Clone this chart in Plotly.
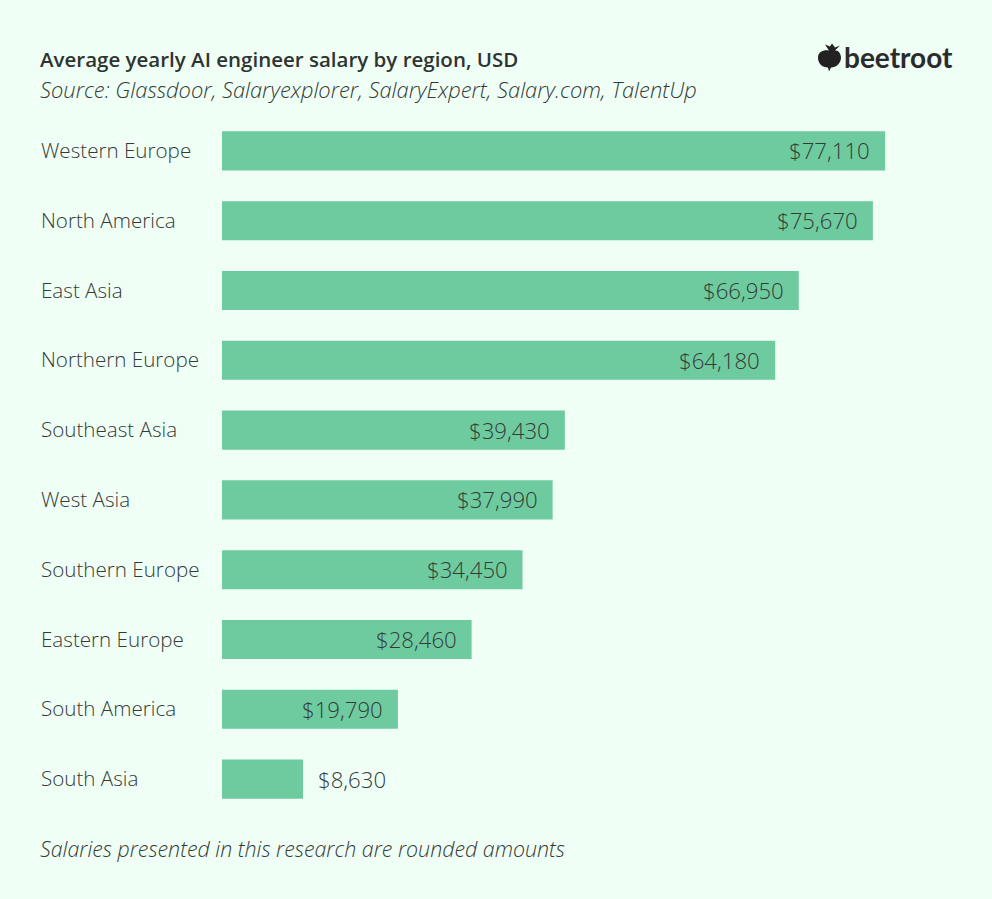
import plotly.graph_objects as go

regions = ["Western Europe", "North America", "East Asia", "Northern Europe", "Southeast Asia",
           "West Asia", "Southern Europe", "Eastern Europe", "South America", "South Asia"]
salaries = [77110, 75670, 66950, 64180, 39430, 37990, 34450, 28460, 19790, 8630]
title = "Average yearly AI engineer salary by region, USD"
source = "Source: Glassdoor, Salaryexplorer, SalaryExpert, Salary.com, TalentUp"
footnote = "Salaries presented in this research are rounded amounts"
brand = "beetroot"

W, H = 992, 899
BG = "#EFFFF6"
BAR = "#6ECB9F"
INK = "#353A37"
FONT = "Open Sans"
LEFT, TOP, BOTTOM = 222, 116.4, 814
PLOT_W = W - LEFT
# The axis begins a little below zero, and the bars start at its left edge
X_MIN, X_MAX = -906, 89682


def note(text, x, y, size, color=INK, italic=False, weight=400, family=FONT):
    return dict(text=text, xref="paper", yref="paper", x=(x - LEFT) / PLOT_W,
                y=1 - (y - TOP) / (BOTTOM - TOP), xanchor="left", yanchor="middle",
                showarrow=False, xshift=-2,
                font=dict(family=family, size=size, color=color, weight=weight,
                          style="italic" if italic else "normal"))


fig = go.Figure(go.Bar(x=[s - X_MIN for s in salaries], base=X_MIN, y=regions, orientation="h",
                       marker=dict(color=BAR, line_width=0), hoverinfo="skip"))

annotations = [
    note(title, 40, 59, 20.5, color="#2F3331", weight=600),
    note(source, 40, 90, 21.9, italic=True, weight=300),
    note(footnote, 40, 848, 21.4, italic=True, weight=300),
    note(brand, 844, 57, 28, color="#2B2B2B", weight=700, family="Lato"),
]
for region, salary in zip(regions, salaries):
    annotations.append(dict(text=region, x=(41 - LEFT) / PLOT_W, xref="paper", y=region, yref="y",
                            xanchor="left", yanchor="middle", showarrow=False, yshift=1, xshift=-2,
                            font=dict(family=FONT, size=20.6, color=INK, weight=300)))
    inside = salary > 10000
    annotations.append(dict(text=f"${salary:,}", x=salary, xref="x", y=region, yref="y",
                            xanchor="right" if inside else "left", xshift=-13 if inside else 13,
                            yanchor="middle", showarrow=False,
                            font=dict(family=FONT, size=22.2, color=INK, weight=300)))


def paper_path(points):
    """Turn pixel-space path tokens into paper coordinates for the emblem."""
    out = []
    for tok in points:
        if isinstance(tok, str):
            out.append(tok)
        else:
            x, y = tok
            out.append(f"{(x - LEFT) / PLOT_W:.5f},{1 - (y - TOP) / (BOTTOM - TOP):.5f}")
    return " ".join(out)


# Beet emblem beside the wordmark
beet = ["M", (818, 58), "C", (818, 52), (824, 50), (829, 51), "L", (825, 45), "L", (830, 47),
        "L", (832, 44), "L", (835, 48), "L", (840, 46), "L", (835, 51),
        "C", (838, 50), (841, 54), (841, 58), "C", (841, 64), (836, 68), (831, 68),
        "L", (829, 72), "L", (828, 68), "C", (822, 68), (818, 64), (818, 58), "Z"]

fig.update_layout(
    width=W, height=H, autosize=False,
    margin=dict(l=LEFT, r=0, t=TOP, b=H - BOTTOM, pad=0),
    paper_bgcolor=BG, plot_bgcolor=BG, showlegend=False, bargap=0.44,
    xaxis=dict(range=[X_MIN, X_MAX], visible=False, fixedrange=True),
    yaxis=dict(autorange="reversed", visible=False, fixedrange=True),
    annotations=annotations,
    shapes=[dict(type="path", xref="paper", yref="paper", path=paper_path(beet),
                 fillcolor="#222222", line_width=0, layer="above")],
)
fig.write_html("out.html", config=dict(displayModeBar=False))
